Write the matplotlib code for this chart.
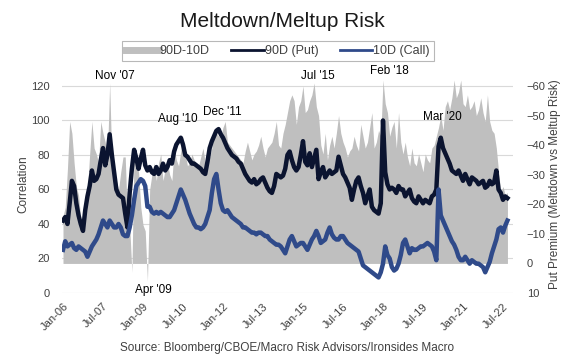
import matplotlib.pyplot as plt
import numpy as np
from matplotlib.lines import Line2D

# monthly values, Jan-06 .. Sep-22
put_90d = [42, 44, 40, 52, 65, 62, 52, 45, 40, 36, 48, 56,
           62, 71, 65, 66, 69, 77, 84, 74, 80, 92, 80, 70,
           60, 57, 56, 55, 46, 38, 58, 72, 83, 78, 72, 78,
           83, 74, 71, 73, 70, 69, 73, 69, 71, 75, 71, 73,
           77, 75, 82, 86, 88, 90, 86, 80, 79, 77, 75, 75,
           74, 73, 72, 70, 69, 76, 84, 88, 91, 94, 95, 92,
           90, 87, 84, 82, 80, 79, 78, 76, 75, 72, 69, 67,
           65, 64, 66, 63, 64, 66, 67, 64, 61, 59, 58, 62,
           69, 68, 67, 68, 72, 80, 82, 77, 73, 71, 73, 80,
           88, 76, 74, 81, 73, 78, 83, 66, 70, 73, 67, 69,
           71, 69, 70, 71, 79, 74, 69, 67, 64, 61, 54, 60,
           65, 67, 62, 58, 52, 56, 60, 50, 48, 47, 46, 52,
           100, 70, 63, 60, 61, 60, 58, 62, 60, 60, 56, 58,
           60, 55, 53, 52, 56, 54, 52, 54, 53, 52, 56, 57,
           60, 85, 90, 84, 81, 78, 75, 71, 70, 69, 71, 68,
           65, 69, 66, 63, 67, 66, 65, 63, 64, 65, 61, 62,
           65, 63, 64, 71, 60, 58, 54, 56, 55]

call_10d = [25, 30, 27, 28, 29, 26, 25, 27, 26, 25, 24, 21,
            24, 27, 29, 31, 34, 38, 42, 40, 38, 42, 40, 38,
            38, 40, 38, 34, 33, 33, 38, 45, 54, 62, 64, 66,
            65, 62, 50, 50, 47, 46, 47, 46, 47, 46, 45, 44,
            44, 46, 48, 52, 56, 60, 57, 54, 50, 46, 43, 40,
            38, 38, 37, 38, 40, 44, 48, 58, 66, 69, 60, 52,
            48, 47, 48, 46, 44, 43, 42, 41, 40, 38, 38, 37,
            36, 35, 35, 34, 35, 35, 34, 33, 33, 31, 30, 29,
            28, 28, 27, 25, 23, 27, 31, 33, 30, 27, 28, 29,
            29, 27, 25, 28, 31, 33, 36, 33, 29, 30, 31, 35,
            38, 34, 32, 31, 31, 33, 33, 31, 29, 28, 27, 26,
            25, 24, 20, 16, 15, 14, 13, 12, 11, 10, 9, 12,
            17, 27, 22, 20, 15, 13, 14, 17, 22, 29, 31, 27,
            23, 26, 25, 25, 26, 27, 27, 28, 29, 28, 27, 24,
            19, 60, 45, 42, 39, 36, 33, 30, 28, 25, 21, 19,
            19, 21, 19, 17, 19, 18, 17, 17, 16, 15, 12, 15,
            18, 23, 27, 31, 37, 38, 35, 39, 42]

# 90D-10D put premium (right axis, negative = meltdown risk priced higher)
premium = [-16, -19, -32, -48, -44, -34, -26, -23, -15, -13, -17, -25,
           -37, -48, -39, -37, -34, -48, -44, -41, -36, -61, -34, -31,
           -28, -25, -31, -36, -36, -15, -13, 3, -39, -35, -31, -19,
           -13, -11, 6, -25, -30, -34, -28, -34, -37, -28, -32, -34,
           -30, -28, -39, -35, -33, -38, -43, -37, -33, -34, -37, -35,
           -33, -33, -36, -39, -34, -35, -36, -39, -43, -44, -43, -43,
           -46, -48, -41, -40, -39, -38, -37, -36, -35, -34, -38, -41,
           -38, -35, -37, -38, -40, -43, -39, -36, -39, -40, -41, -44,
           -48, -40, -39, -44, -47, -51, -55, -57, -55, -47, -53, -55,
           -60, -51, -52, -55, -57, -61, -53, -50, -40, -37, -44, -35,
           -40, -43, -39, -44, -50, -44, -41, -39, -36, -38, -39, -43,
           -40, -38, -47, -43, -39, -41, -46, -51, -39, -41, -45, -43,
           -62, -54, -51, -43, -46, -48, -39, -51, -41, -37, -41, -36,
           -33, -39, -34, -33, -37, -34, -31, -37, -35, -34, -39, -40,
           -43, -46, -50, -45, -53, -55, -52, -56, -62, -56, -58, -62,
           -54, -53, -57, -52, -53, -55, -50, -52, -56, -51, -48, -57,
           -48, -45, -44, -39, -31, -24, -26, -23, -24]

tick_labels = ['Jan-06', 'Jul-07', 'Jan-09', 'Jul-10', 'Jan-12', 'Jul-13',
               'Jan-15', 'Jul-16', 'Jan-18', 'Jul-19', 'Jan-21', 'Jul-22']

# labelled events: text, month index, correlation level
events = ["Nov '07", "Aug '10", "Dec '11", "Jul '15", "Feb '18", "Mar '20", "Apr '09"]
event_month = [23.5, 51.5, 71.5, 114.5, 147, 170.5, 40.5]
event_level = [126, 101, 105, 126, 128.5, 102, 1.5]

plt.rcParams['font.family'] = ['Liberation Sans', 'DejaVu Sans']

months = np.arange(len(put_90d))
gray = '#bfbfbf'
black = '#0b1430'
blue = '#2f4a8a'
txt = '#404040'

fig = plt.figure(figsize=(5.71, 3.6), dpi=100)
ax = fig.add_axes([62 / 571, 1 - 293 / 360, 451 / 571, (293 - 75.6) / 360])
ax2 = ax.twinx()

ax2.set_ylim(10, 10 - 126 * 70 / 120)

# gray area belongs to the right scale but sits between the grid and the lines
ax.fill_between(months, 0, premium, transform=ax2.transData,
                color=gray, lw=0, zorder=1)
ax.plot(months, put_90d, color=black, lw=3.2, zorder=3)
ax.plot(months, call_10d, color=blue, lw=3.2, zorder=3)

ax.set_ylim(0, 126)
ax.set_xlim(-0.45, 202.5)

ax.set_yticks(range(0, 121, 20))
ax2.set_yticks(range(-60, 11, 10))
ax.set_xticks(range(0, 199, 18))
ax.set_xticklabels(tick_labels, rotation=45, ha='right', rotation_mode='anchor')
ax.grid(axis='y', color='#d9d9d9', lw=0.8, zorder=0)
ax.set_axisbelow(True)

for a in (ax, ax2):
    for s in a.spines.values():
        s.set_visible(False)
ax.tick_params(axis='both', length=0, labelsize=8, colors=txt)
ax.tick_params(axis='y', pad=9)
ax.tick_params(axis='x', pad=6)
ax2.tick_params(axis='y', length=0, labelsize=8, colors=txt, pad=10)

ax.set_ylabel('Correlation', fontsize=8.5, color=txt, labelpad=1)
ax2.set_ylabel('Put Premium (Meltdown vs Meltup Risk)', fontsize=8.5,
               color=txt, labelpad=2)

for label, m, lev in zip(events, event_month, event_level):
    ax.text(m, lev, label, fontsize=8.5, color='black', ha='center',
            va='center', zorder=4, clip_on=False)

fig.text(0.495, 0.94, 'Meltdown/Meltup Risk', fontsize=15, ha='center',
         va='center', color='#1a1a1a')

handles = [Line2D([], [], color=gray, lw=5),
           Line2D([], [], color=black, lw=2),
           Line2D([], [], color=blue, lw=2)]
leg = fig.legend(handles, ['90D-10D', '90D (Put)', '10D (Call)'], loc='center',
                 bbox_to_anchor=(278 / 571, 1 - 51 / 360), ncol=3, fontsize=9,
                 frameon=True, fancybox=False, edgecolor='#a6a6a6',
                 handlelength=2.6, handletextpad=0.1, columnspacing=1.7,
                 borderpad=0.35, borderaxespad=0)
leg.get_frame().set_linewidth(0.8)
for t in leg.get_texts():
    t.set_color(txt)

fig.text(0.503, 0.033, 'Source: Bloomberg/CBOE/Macro Risk Advisors/Ironsides Macro',
         fontsize=8.5, ha='center', va='center', color=txt)

fig.savefig('out.png', dpi=100)
